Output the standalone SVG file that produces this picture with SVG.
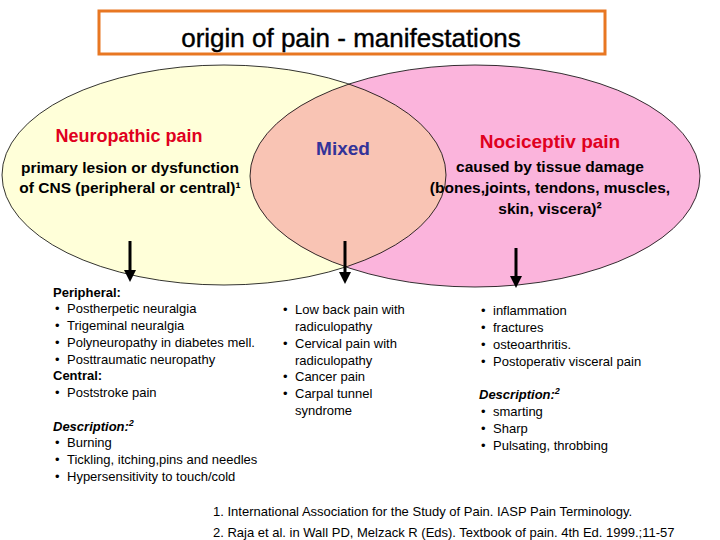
<svg xmlns="http://www.w3.org/2000/svg" width="720" height="540" viewBox="0 0 720 540">
<style>
.h{font-family:"Liberation Sans",Arial,sans-serif;font-weight:bold}
.t{font-family:"Liberation Sans",Arial,sans-serif;font-size:13px;fill:#000}
.b{font-family:"Liberation Sans",Arial,sans-serif;font-size:15.5px;font-weight:bold;fill:#000}
.ar{stroke:#000;stroke-width:3;marker-end:url(#ah)}
</style>
<defs>
<marker id="ah" markerWidth="4" markerHeight="4" refX="2" refY="2" orient="auto"><path d="M0,0L4,2L0,4z" fill="#000"/></marker>
<clipPath id="lc"><ellipse cx="224" cy="175" rx="222" ry="110"/></clipPath>
</defs>
<rect width="720" height="540" fill="#fff"/>
<g id="title"><rect x="99" y="11" width="506" height="43" fill="#fff" stroke="#E87722" stroke-width="3"/>
<text x="351" y="47" text-anchor="middle" class="h" style="font-size:26px;font-weight:normal;stroke:#000;stroke-width:0.4">origin of pain - manifestations</text></g>
<g id="neuropathic"><ellipse cx="224" cy="175" rx="222" ry="110" fill="#FFFFD9"/></g>
<g id="nociceptive"><ellipse cx="475" cy="176" rx="225" ry="111" fill="#FBB4DC"/></g>
<g id="mixed"><ellipse cx="475" cy="176" rx="225" ry="111" fill="#F9C4B4" clip-path="url(#lc)"/>
<ellipse cx="224" cy="175" rx="222" ry="110" fill="none" stroke="#000" stroke-width="0.8"/>
<ellipse cx="475" cy="176" rx="225" ry="111" fill="none" stroke="#000" stroke-width="0.8"/>
<text x="343" y="155" text-anchor="middle" class="h" style="font-size:19px" fill="#333399">Mixed</text></g>
<text x="129" y="142" text-anchor="middle" class="h" style="font-size:18px" fill="#E00020">Neuropathic pain</text>
<text x="130" y="173" text-anchor="middle" class="b">primary lesion or dysfunction</text>
<text x="130" y="193" text-anchor="middle" class="b">of CNS (peripheral or central)¹</text>
<text x="550" y="148" text-anchor="middle" class="h" style="font-size:19px" fill="#E00020">Nociceptiv pain</text>
<text x="550" y="172" text-anchor="middle" class="b">caused by  tissue damage</text>
<text x="550" y="193" text-anchor="middle" class="b">(bones,joints, tendons, muscles,</text>
<text x="550" y="214" text-anchor="middle" class="b">skin, viscera)²</text>
<g id="connectors">
<line class="ar" x1="130" y1="241" x2="130" y2="276"/>
<line class="ar" x1="345" y1="241" x2="345" y2="278"/>
<line class="ar" x1="516" y1="248" x2="516" y2="282"/>
</g>
<g id="neuro-list" class="t">
<text x="53" y="297" font-weight="bold">Peripheral:</text>
<text y="313"><tspan x="55">•</tspan><tspan x="67">Postherpetic neuralgia</tspan></text>
<text y="330"><tspan x="55">•</tspan><tspan x="67">Trigeminal neuralgia</tspan></text>
<text y="347"><tspan x="55">•</tspan><tspan x="67">Polyneuropathy in diabetes mell.</tspan></text>
<text y="364"><tspan x="55">•</tspan><tspan x="67">Posttraumatic neuropathy</tspan></text>
<text x="53" y="380" font-weight="bold">Central:</text>
<text y="397"><tspan x="55">•</tspan><tspan x="67">Poststroke pain</tspan></text>
<text x="53" y="431" font-weight="bold" font-style="italic">Description:<tspan font-size="9" dy="-5">2</tspan></text>
<text y="447"><tspan x="55">•</tspan><tspan x="67">Burning</tspan></text>
<text y="464"><tspan x="55">•</tspan><tspan x="67">Tickling, itching,pins and needles</tspan></text>
<text y="481"><tspan x="55">•</tspan><tspan x="67">Hypersensitivity  to touch/cold</tspan></text>
</g>
<g id="mixed-list" class="t">
<text y="314"><tspan x="283">•</tspan><tspan x="295">Low back pain with</tspan></text>
<text x="295" y="331">radiculopathy</text>
<text y="348"><tspan x="283">•</tspan><tspan x="295">Cervical  pain with</tspan></text>
<text x="295" y="365">radiculopathy</text>
<text y="381"><tspan x="283">•</tspan><tspan x="295">Cancer pain</tspan></text>
<text y="398"><tspan x="283">•</tspan><tspan x="295">Carpal tunnel</tspan></text>
<text x="295" y="415">syndrome</text>
</g>
<g id="noci-list" class="t">
<text y="315"><tspan x="481">•</tspan><tspan x="493">inflammation</tspan></text>
<text y="332"><tspan x="481">•</tspan><tspan x="493">fractures</tspan></text>
<text y="349"><tspan x="481">•</tspan><tspan x="493">osteoarthritis.</tspan></text>
<text y="366"><tspan x="481">•</tspan><tspan x="493">Postoperativ visceral pain</tspan></text>
<text x="479" y="399" font-weight="bold" font-style="italic">Description:<tspan font-size="9" dy="-5">2</tspan></text>
<text y="416"><tspan x="481">•</tspan><tspan x="493">smarting</tspan></text>
<text y="433"><tspan x="481">•</tspan><tspan x="493">Sharp</tspan></text>
<text y="450"><tspan x="481">•</tspan><tspan x="493">Pulsating, throbbing</tspan></text>
</g>
<g id="refs" class="t">
<text x="213" y="516">1. International Association for the Study of Pain. IASP Pain Terminology.</text>
<text x="213" y="537">2. Raja et al. in Wall PD, Melzack R (Eds). Textbook of pain. 4th Ed. 1999.;11-57</text>
</g>
</svg>
